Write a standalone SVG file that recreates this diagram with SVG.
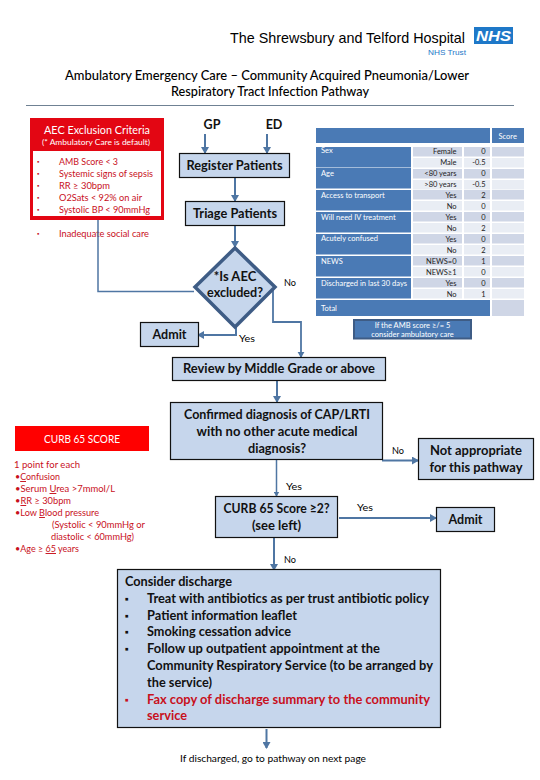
<svg xmlns="http://www.w3.org/2000/svg" width="540" height="780" viewBox="0 0 540 780">
<defs>
<marker id="a" markerWidth="4" markerHeight="4" refX="3" refY="2" orient="auto"><path d="M0 0L3.500 2L0 4Z" fill="#4f76a3"/></marker>
</defs>
<style>
text{font-family:"Lato","Liberation Sans",sans-serif;fill:#000}
.b{font-weight:700}
.box{fill:#c6d6ec;stroke:#111;stroke-width:1.200}
.t{font-size:13px;font-weight:700;text-anchor:middle;fill:#111}
.l{font-size:9.500px;fill:#222}
.r{font-size:9.500px;fill:#c8101c}
.p{font-size:6px;fill:#c8101c}
.q{font-size:9px;font-weight:700;fill:#111}
.c{fill:none;stroke:#4f76a3;stroke-width:2;marker-end:url(#a)}
.n{fill:none;stroke:#4f76a3;stroke-width:1.500}
.d{fill:#4a7ab5}.e{fill:#cfd6e6}.f{fill:#e9edf4}
.w{font-size:7.500px;fill:#fff}
.k{font-size:7.500px;fill:#222;text-anchor:end}
.m{font-size:12.500px;font-weight:700;fill:#111}
.u{text-decoration:underline}
</style>
<g id="logo">
<text x="230" y="43" font-size="15" style="font-family:'Liberation Sans',sans-serif" textLength="235" lengthAdjust="spacingAndGlyphs">The Shrewsbury and Telford Hospital</text>
<rect x="474" y="27" width="39" height="17" fill="#1e78c8"/>
<text x="493.500" y="41" font-size="15" class="b" text-anchor="middle" font-style="italic" style="fill:#fff;font-family:'Liberation Sans',sans-serif" textLength="35" lengthAdjust="spacingAndGlyphs">NHS</text>
<text x="428" y="55" font-size="7.500" style="fill:#1e78c8;font-family:'Liberation Sans',sans-serif" textLength="38" lengthAdjust="spacingAndGlyphs">NHS Trust</text>
</g>
<g id="title">
<text x="65" y="80" font-size="13" class="b" style="font-weight:500" textLength="404" lengthAdjust="spacingAndGlyphs">Ambulatory Emergency Care – Community Acquired Pneumonia/Lower</text>
<text x="171" y="96" font-size="13" class="b" style="font-weight:500" textLength="198" lengthAdjust="spacingAndGlyphs">Respiratory Tract Infection Pathway</text>
<line x1="26" y1="105.500" x2="514" y2="105.500" stroke="#6f8193" stroke-width="1"/>
</g>
<g id="aec-criteria">
<rect x="30" y="118" width="134" height="102" fill="#e30613"/>
<rect x="33" y="151" width="128" height="65" fill="#fff"/>
<text x="44" y="134" font-size="11" style="fill:#fff" textLength="106" lengthAdjust="spacingAndGlyphs">AEC Exclusion Criteria</text>
<text x="42" y="144.500" font-size="7.500" style="fill:#fff" textLength="108" lengthAdjust="spacingAndGlyphs">(* Ambulatory Care is default)</text>
<text class="p" x="37" y="164">▪</text><text class="r" x="59" y="165" textLength="59" lengthAdjust="spacingAndGlyphs">AMB Score &lt; 3</text>
<text class="p" x="37" y="176">▪</text><text class="r" x="59" y="177" textLength="94" lengthAdjust="spacingAndGlyphs">Systemic signs of sepsis</text>
<text class="p" x="37" y="188">▪</text><text class="r" x="59" y="189" textLength="51" lengthAdjust="spacingAndGlyphs">RR ≥ 30bpm</text>
<text class="p" x="37" y="200">▪</text><text class="r" x="59" y="201" textLength="83" lengthAdjust="spacingAndGlyphs">O2Sats &lt; 92% on air</text>
<text class="p" x="37" y="212">▪</text><text class="r" x="59" y="213" textLength="91" lengthAdjust="spacingAndGlyphs">Systolic BP &lt; 90mmHg</text>
<text class="p" x="37" y="236">▪</text><text class="r" x="59" y="237" textLength="90" lengthAdjust="spacingAndGlyphs">Inadequate social care</text>
</g>
<g id="connectors">
<path class="c" d="M205 134V153"/>
<path class="c" d="M267 134V153"/>
<path class="c" d="M235 178V201"/>
<path class="c" d="M235 225V247"/>
<path class="n" d="M194 291.500H98V220"/>
<path class="c" d="M236 327V335H198"/>
<path class="c" style="stroke-width:1.800" d="M273 288V322H301V357"/>
<path class="c" d="M277 381V402"/>
<path class="c" d="M382 460.500H418"/>
<path class="c" style="stroke-width:1.500" d="M276.500 459V496"/>
<path class="c" d="M339 518H436"/>
<path class="c" d="M274 537V570"/>
<path class="c" d="M266.500 729V748"/>
</g>
<g id="gp"><text x="212" y="129" class="t" style="font-size:12.500px">GP</text></g>
<g id="ed"><text x="274" y="129" class="t" style="font-size:12.500px">ED</text></g>
<g id="register"><rect class="box" x="179.500" y="153.500" width="110" height="24"/><text x="234.500" y="170" class="t" textLength="96" lengthAdjust="spacingAndGlyphs">Register Patients</text></g>
<g id="triage"><rect class="box" x="185.500" y="201.500" width="99" height="24"/><text x="235" y="218" class="t" textLength="84" lengthAdjust="spacingAndGlyphs">Triage Patients</text></g>
<g id="is-aec"><path d="M235 248L275 287L235 327L195 287Z" fill="#c6d6ec" stroke="#3e5c85" stroke-width="3.500"/>
<text x="235" y="281" class="t">*Is AEC</text><text x="235" y="297" class="t" textLength="56" lengthAdjust="spacingAndGlyphs">excluded?</text></g>
<g id="admit-1"><rect class="box" x="140.500" y="322.500" width="58" height="24"/><text x="169.500" y="339" class="t" textLength="34" lengthAdjust="spacingAndGlyphs">Admit</text></g>
<g id="labels">
<text x="284" y="286" font-size="9.500" textLength="12" lengthAdjust="spacingAndGlyphs">No</text>
<text x="239" y="342" font-size="9.500" textLength="16" lengthAdjust="spacingAndGlyphs">Yes</text>
<text x="392" y="454" font-size="9.500" textLength="12" lengthAdjust="spacingAndGlyphs">No</text>
<text x="286" y="490" font-size="9.500" textLength="16" lengthAdjust="spacingAndGlyphs">Yes</text>
<text x="357" y="511" font-size="9.500" textLength="16" lengthAdjust="spacingAndGlyphs">Yes</text>
<text x="284" y="563" font-size="9.500" textLength="12" lengthAdjust="spacingAndGlyphs">No</text>
</g>
<g id="amb-table">
<rect class="d" x="316" y="128" width="174" height="15"/><rect class="d" x="492" y="128" width="32" height="15"/>
<text x="498.500" y="138.500" class="w">Score</text>
<g>
<rect class="d" x="316" y="147" width="95" height="20.500"/><rect class="d" x="316" y="168" width="95" height="20.500"/><rect class="d" x="316" y="190" width="95" height="20.500"/><rect class="d" x="316" y="212" width="95" height="20.500"/><rect class="d" x="316" y="234" width="95" height="20.500"/><rect class="d" x="316" y="256" width="95" height="20.500"/><rect class="d" x="316" y="278" width="95" height="20.500"/>
<rect class="e" x="413" y="147" width="49" height="9.500"/><rect class="f" x="413" y="158" width="49" height="9.500"/><rect class="e" x="413" y="169" width="49" height="9.500"/><rect class="f" x="413" y="180" width="49" height="9.500"/><rect class="e" x="413" y="190" width="49" height="9.500"/><rect class="f" x="413" y="201" width="49" height="9.500"/><rect class="e" x="413" y="212" width="49" height="9.500"/><rect class="f" x="413" y="223" width="49" height="9.500"/><rect class="e" x="413" y="234" width="49" height="9.500"/><rect class="f" x="413" y="245" width="49" height="9.500"/><rect class="e" x="413" y="256" width="49" height="9.500"/><rect class="f" x="413" y="267" width="49" height="9.500"/><rect class="e" x="413" y="278" width="49" height="9.500"/><rect class="f" x="413" y="289" width="49" height="9.500"/>
<rect class="e" x="464" y="147" width="26" height="9.500"/><rect class="f" x="464" y="158" width="26" height="9.500"/><rect class="e" x="464" y="169" width="26" height="9.500"/><rect class="f" x="464" y="180" width="26" height="9.500"/><rect class="e" x="464" y="190" width="26" height="9.500"/><rect class="f" x="464" y="201" width="26" height="9.500"/><rect class="e" x="464" y="212" width="26" height="9.500"/><rect class="f" x="464" y="223" width="26" height="9.500"/><rect class="e" x="464" y="234" width="26" height="9.500"/><rect class="f" x="464" y="245" width="26" height="9.500"/><rect class="e" x="464" y="256" width="26" height="9.500"/><rect class="f" x="464" y="267" width="26" height="9.500"/><rect class="e" x="464" y="278" width="26" height="9.500"/><rect class="f" x="464" y="289" width="26" height="9.500"/>
<rect class="e" x="492" y="147" width="32" height="9.500"/><rect class="f" x="492" y="158" width="32" height="9.500"/><rect class="e" x="492" y="169" width="32" height="9.500"/><rect class="f" x="492" y="180" width="32" height="9.500"/><rect class="e" x="492" y="190" width="32" height="9.500"/><rect class="f" x="492" y="201" width="32" height="9.500"/><rect class="e" x="492" y="212" width="32" height="9.500"/><rect class="f" x="492" y="223" width="32" height="9.500"/><rect class="e" x="492" y="234" width="32" height="9.500"/><rect class="f" x="492" y="245" width="32" height="9.500"/><rect class="e" x="492" y="256" width="32" height="9.500"/><rect class="f" x="492" y="267" width="32" height="9.500"/><rect class="e" x="492" y="278" width="32" height="9.500"/><rect class="f" x="492" y="289" width="32" height="9.500"/>
<rect class="d" x="316" y="300" width="174" height="16"/><rect class="e" x="492" y="300" width="32" height="16"/>
</g>
<text class="w" x="321" y="153">Sex</text>
<text class="w" x="321" y="176">Age</text>
<text class="w" x="321" y="198">Access to transport</text>
<text class="w" x="321" y="220">Will need IV treatment</text>
<text class="w" x="321" y="241">Acutely confused</text>
<text class="w" x="321" y="264">NEWS</text>
<text class="w" x="321" y="286" textLength="86" lengthAdjust="spacingAndGlyphs">Discharged in last 30 days</text>
<text class="w" x="321" y="311">Total</text>
<text class="k" x="456.500" y="153.500">Female</text><text class="k" x="485.500" y="153.500">0</text>
<text class="k" x="456.500" y="164.500">Male</text><text class="k" x="485.500" y="164.500">-0.5</text>
<text class="k" x="456.500" y="175.500">&lt;80 years</text><text class="k" x="485.500" y="175.500">0</text>
<text class="k" x="456.500" y="186.500">&gt;80 years</text><text class="k" x="485.500" y="186.500">-0.5</text>
<text class="k" x="456.500" y="197.500">Yes</text><text class="k" x="485.500" y="197.500">2</text>
<text class="k" x="456.500" y="208.500">No</text><text class="k" x="485.500" y="208.500">0</text>
<text class="k" x="456.500" y="219.500">Yes</text><text class="k" x="485.500" y="219.500">0</text>
<text class="k" x="456.500" y="230.500">No</text><text class="k" x="485.500" y="230.500">2</text>
<text class="k" x="456.500" y="241.500">Yes</text><text class="k" x="485.500" y="241.500">0</text>
<text class="k" x="456.500" y="252.500">No</text><text class="k" x="485.500" y="252.500">2</text>
<text class="k" x="456.500" y="263.500">NEWS=0</text><text class="k" x="485.500" y="263.500">1</text>
<text class="k" x="456.500" y="274.500">NEWS≥1</text><text class="k" x="485.500" y="274.500">0</text>
<text class="k" x="456.500" y="285.500">Yes</text><text class="k" x="485.500" y="285.500">0</text>
<text class="k" x="456.500" y="296.500">No</text><text class="k" x="485.500" y="296.500">1</text>
</g>
<g id="amb-note"><rect x="354" y="320" width="117" height="18.500" fill="#4a7ab5" stroke="#3e5c85" stroke-width="2"/>
<text x="412.500" y="327.500" font-size="7.500" text-anchor="middle" style="fill:#fff">If the AMB score ≥/= 5</text>
<text x="412.500" y="336.500" font-size="7.500" text-anchor="middle" style="fill:#fff">consider ambulatory care</text></g>
<g id="review"><rect class="box" x="172.500" y="357.500" width="213" height="23"/><text x="279" y="373" class="t" textLength="192" lengthAdjust="spacingAndGlyphs">Review by Middle Grade or above</text></g>
<g id="confirmed"><rect class="box" x="170.500" y="402.500" width="212" height="57"/>
<text x="277" y="419" class="t" textLength="186" lengthAdjust="spacingAndGlyphs">Confirmed diagnosis of CAP/LRTI</text>
<text x="277" y="436" class="t" textLength="161" lengthAdjust="spacingAndGlyphs">with no other acute medical</text>
<text x="277" y="453" class="t" textLength="58" lengthAdjust="spacingAndGlyphs">diagnosis?</text></g>
<g id="not-appropriate"><rect class="box" x="418.500" y="438.500" width="115" height="41"/>
<text x="476" y="455" class="t" textLength="92" lengthAdjust="spacingAndGlyphs">Not appropriate</text>
<text x="476" y="472" class="t" textLength="93" lengthAdjust="spacingAndGlyphs">for this pathway</text></g>
<g id="curb-question"><rect class="box" x="215.500" y="496.500" width="122" height="41"/>
<text x="276.500" y="513" class="t" textLength="106" lengthAdjust="spacingAndGlyphs">CURB 65 Score ≥2?</text>
<text x="276.500" y="530" class="t" textLength="49" lengthAdjust="spacingAndGlyphs">(see left)</text></g>
<g id="admit-2"><rect class="box" x="436.500" y="507.500" width="58" height="24"/><text x="465.500" y="524" class="t" textLength="34" lengthAdjust="spacingAndGlyphs">Admit</text></g>
<g id="curb-score">
<rect x="15" y="426" width="134" height="25" fill="#f00"/>
<text x="82" y="443" font-size="11" text-anchor="middle" style="fill:#fff" textLength="76" lengthAdjust="spacingAndGlyphs">CURB 65 SCORE</text>
<text class="r" x="14" y="468" textLength="66" lengthAdjust="spacingAndGlyphs">1 point for each</text>
<text class="r" x="15" y="480" textLength="45" lengthAdjust="spacingAndGlyphs">•<tspan class="u">C</tspan>onfusion</text>
<text class="r" x="15" y="492" textLength="100" lengthAdjust="spacingAndGlyphs">•Serum <tspan class="u">U</tspan>rea &gt;7mmol/L</text>
<text class="r" x="15" y="504" textLength="56" lengthAdjust="spacingAndGlyphs">•<tspan class="u">R</tspan>R ≥ 30bpm</text>
<text class="r" x="15" y="516" textLength="84" lengthAdjust="spacingAndGlyphs">•Low <tspan class="u">B</tspan>lood pressure</text>
<text class="r" x="52" y="528" textLength="93" lengthAdjust="spacingAndGlyphs">(Systolic &lt; 90mmHg or</text>
<text class="r" x="51" y="540" textLength="83" lengthAdjust="spacingAndGlyphs">diastolic &lt; 60mmHg)</text>
<text class="r" x="15" y="552" textLength="64" lengthAdjust="spacingAndGlyphs">•Age ≥ <tspan class="u">65</tspan> years</text>
</g>
<g id="discharge"><rect class="box" x="117.500" y="569.500" width="323" height="158"/>
<text class="m" x="125" y="586" textLength="107" lengthAdjust="spacingAndGlyphs">Consider discharge</text>
<text class="q" x="125" y="602">▪</text><text class="m" x="147" y="603" textLength="282" lengthAdjust="spacingAndGlyphs">Treat with antibiotics as per trust antibiotic policy</text>
<text class="q" x="125" y="619">▪</text><text class="m" x="147" y="620" textLength="150" lengthAdjust="spacingAndGlyphs">Patient information leaflet</text>
<text class="q" x="125" y="635">▪</text><text class="m" x="147" y="636" textLength="144" lengthAdjust="spacingAndGlyphs">Smoking cessation advice</text>
<text class="q" x="125" y="652">▪</text><text class="m" x="147" y="653" textLength="233" lengthAdjust="spacingAndGlyphs">Follow up outpatient appointment at the</text>
<text class="m" x="147" y="670" textLength="286" lengthAdjust="spacingAndGlyphs">Community Respiratory Service (to be arranged by</text>
<text class="m" x="147" y="687" textLength="65" lengthAdjust="spacingAndGlyphs">the service)</text>
<text class="q" x="125" y="703" style="fill:#c8101c">▪</text><text class="m" x="147" y="704" style="fill:#c8101c" textLength="283" lengthAdjust="spacingAndGlyphs">Fax copy of discharge summary to the community</text>
<text class="m" x="147" y="720" style="fill:#c8101c" textLength="40" lengthAdjust="spacingAndGlyphs">service</text>
</g>
<g id="next-page"><text x="180" y="762" font-size="9.500" textLength="186" lengthAdjust="spacingAndGlyphs">If discharged, go to pathway on next page</text></g>
</svg>
